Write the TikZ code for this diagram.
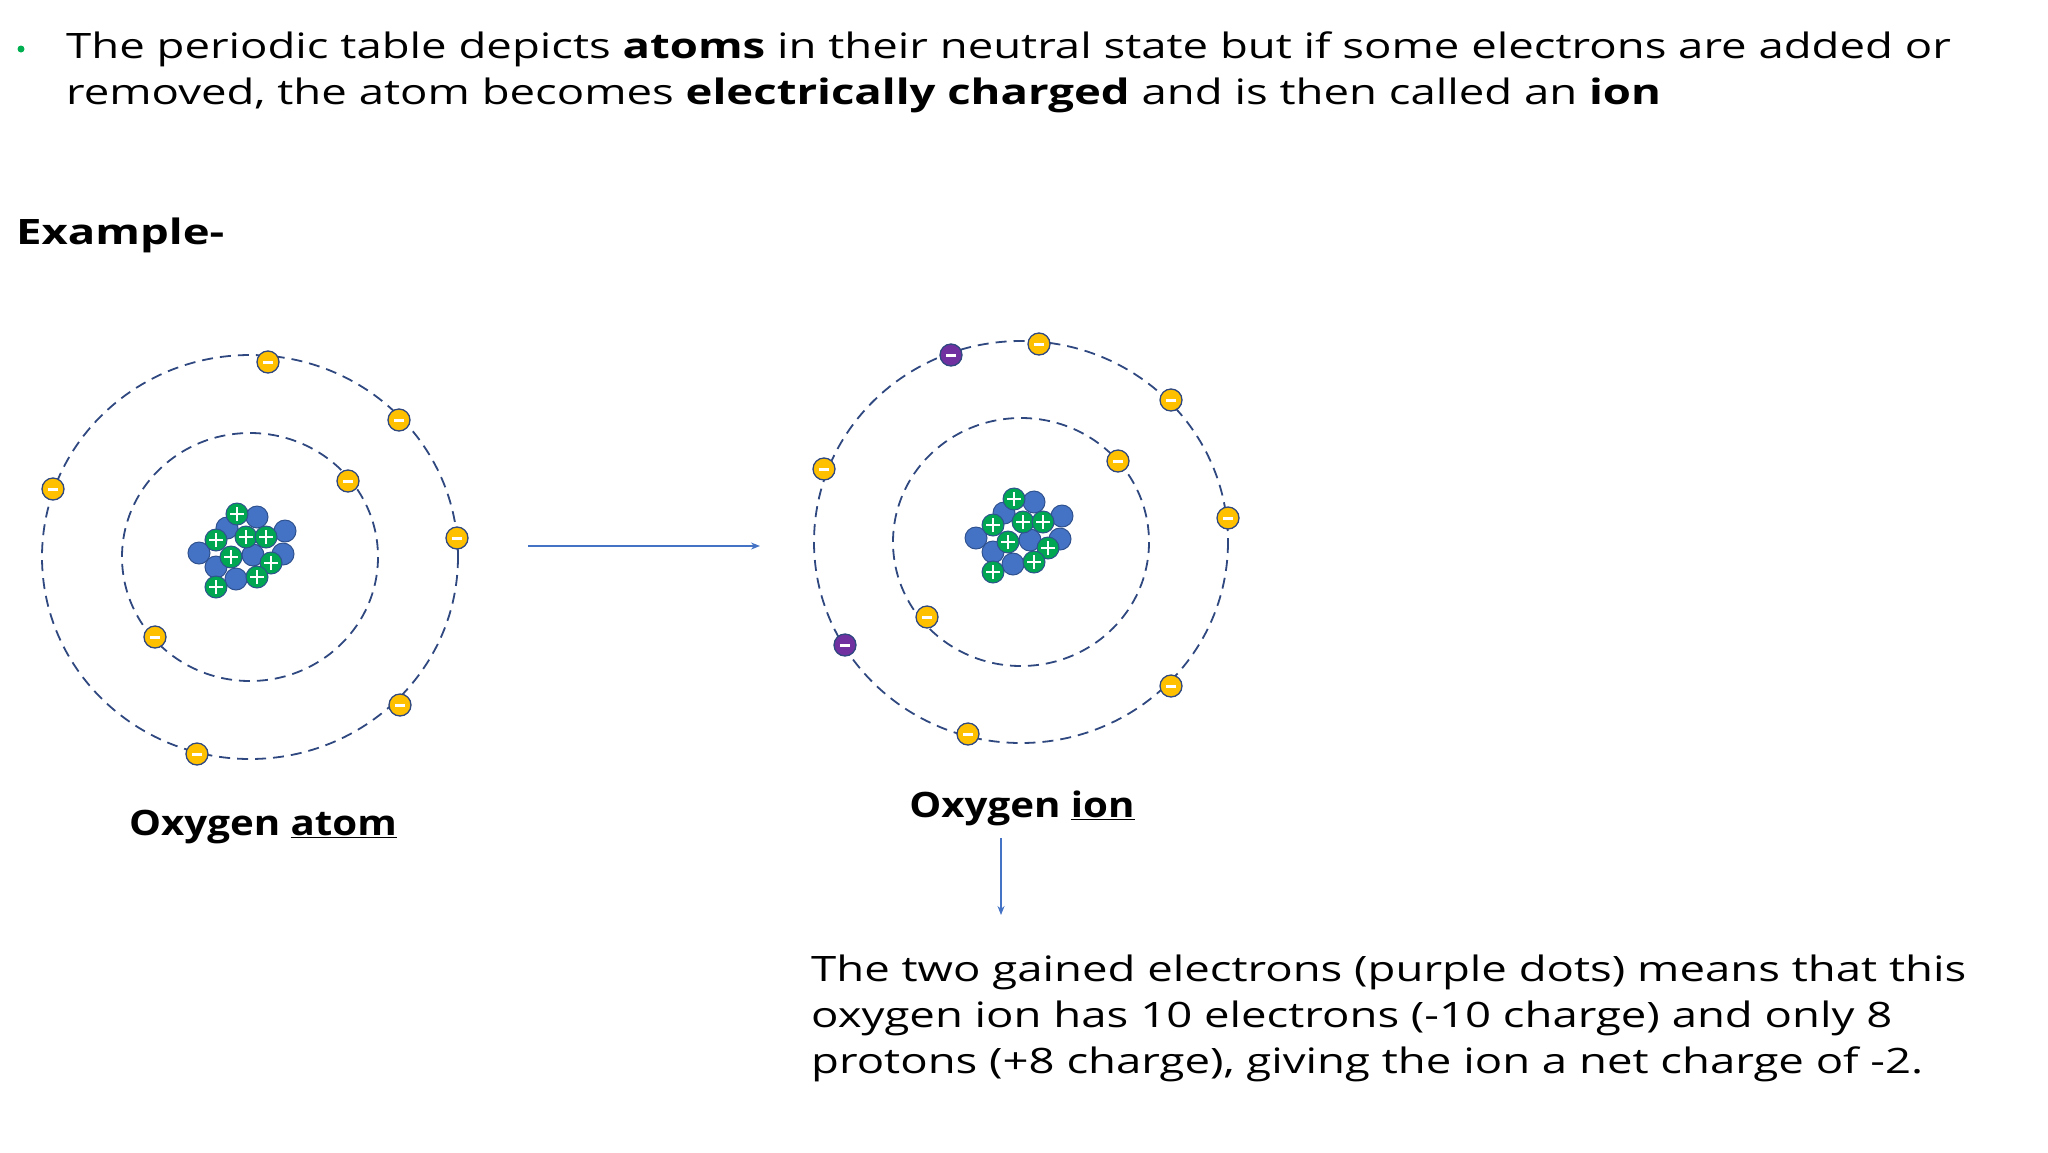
\documentclass[tikz,border=0pt]{standalone}
\usepackage{fontspec}
\setmainfont{Open Sans}[FakeStretch=1.3]
\newfontfamily\labfont{Open Sans}[FakeStretch=1.15]
\begin{document}
\begin{tikzpicture}[x=1pt,y=-1pt,
 orbit/.style={draw=orbitc,line width=1.8pt,dash pattern=on 11pt off 7pt},
 elec/.style={circle,draw=orbitc,line width=1.3pt,fill=elecy,minimum size=22pt,inner sep=0pt},
 pelec/.style={circle,draw=orbitc,line width=1.3pt,fill=elecp,minimum size=22pt,inner sep=0pt},
 neut/.style={circle,draw=neutd,line width=1pt,fill=neutc,minimum size=22pt,inner sep=0pt},
 prot/.style={circle,draw=neutd,line width=1pt,fill=protc,minimum size=22pt,inner sep=0pt},
 arr/.style={draw=arrc,line width=1.2pt,-{Stealth[length=9pt,width=7pt]}},
 txt/.style={font=\fontsize{35}{46}\selectfont,anchor=west,inner sep=0pt},
 lab/.style={font=\labfont\fontsize{35}{46}\selectfont,inner sep=0pt}]
\definecolor{orbitc}{RGB}{47,72,128}
\definecolor{elecy}{RGB}{255,192,0}
\definecolor{elecp}{RGB}{112,48,160}
\definecolor{neutc}{RGB}{68,114,196}
\definecolor{neutd}{RGB}{47,82,143}
\definecolor{protc}{RGB}{0,166,81}
\definecolor{arrc}{RGB}{68,114,196}
\definecolor{bulc}{RGB}{0,176,80}
\usetikzlibrary{arrows.meta}
\useasboundingbox (0,0) rectangle (2048,1152);
\newcommand{\minus}[1]{\fill[white] ([xshift=-5pt,yshift=-1.5pt]#1.center) rectangle ([xshift=5pt,yshift=1.5pt]#1.center);}
\newcommand{\nucleus}[2]{%
 \foreach \dx/\dy [count=\i] in {15/-33,-15/-22,43/-19,-43/3,11/5,41/4,-26/17,-6/29}
   \node[neut] (n#1\i) at (#2+\dx,\dy+\nucy) {};
 \foreach \dx/\dy [count=\i] in {-5/-36,-26/-10,4/-13,24/-13,-11/7,29/13,15/27,-26/37}{
   \node[prot] (p#1\i) at (#2+\dx,\dy+\nucy) {};
   \draw[white,line width=2.2pt] ([xshift=-7pt]p#1\i.center) -- ([xshift=7pt]p#1\i.center)
     ([yshift=-7pt]p#1\i.center) -- ([yshift=7pt]p#1\i.center);}}
% bullet text
\node[circle,fill=bulc,inner sep=0pt,minimum size=7pt] (bul) at (21,49) {};
\node[txt] (l1) at (66,49) {The periodic table depicts \textbf{atoms} in their neutral state but if some electrons are added or};
\node[txt] (l2) at (66,95) {removed, the atom becomes \textbf{electrically charged} and is then called an \textbf{ion}};
\node[txt] (ex) at (16,235) {\textbf{Example-}};
% left atom
\draw[orbit] (250,557) ellipse [x radius=208,y radius=202];
\draw[orbit] (250,557) ellipse [x radius=128,y radius=124];
\def\nucy{550}
\nucleus{a}{242}
\foreach \x/\y [count=\i] in {268/362,399/420,457/538,400/705,197/754,53/489,348/481,155/637}{
 \node[elec] (ea\i) at (\x,\y) {}; \minus{ea\i}}
% right atom
\draw[orbit] (1021,542) ellipse [x radius=207,y radius=201];
\draw[orbit] (1021,542) ellipse [x radius=128,y radius=124];
\def\nucy{535}
\nucleus{b}{1019}
\foreach \x/\y [count=\i] in {1039/344,1171/400,1228/518,1171/686,968/734,824/469,1118/461,927/617}{
 \node[elec] (eb\i) at (\x,\y) {}; \minus{eb\i}}
\node[pelec] (pb1) at (951,355) {}; \minus{pb1}
\node[pelec] (pb2) at (845,645) {}; \minus{pb2}
% arrows
\coordinate (a1) at (528,546); \coordinate (a2) at (760,546);
\draw[arr] (a1) -- (a2);
\node[lab] (lab1) at (263,827) {\textbf{Oxygen \underline{atom}}};
\node[lab] (lab2) at (1022,808) {\textbf{Oxygen \underline{ion}}};
\coordinate (d1) at (1001,838); \coordinate (d2) at (1001,915);
\draw[arr] (d1) -- (d2);
\node[txt] (p1) at (811,972) {The two gained electrons (purple dots) means that this};
\node[txt] (p2) at (811,1018) {oxygen ion has 10 electrons (-10 charge) and only 8};
\node[txt] (p3) at (811,1064) {protons (+8 charge), giving the ion a net charge of -2.};
\end{tikzpicture}
\end{document}
